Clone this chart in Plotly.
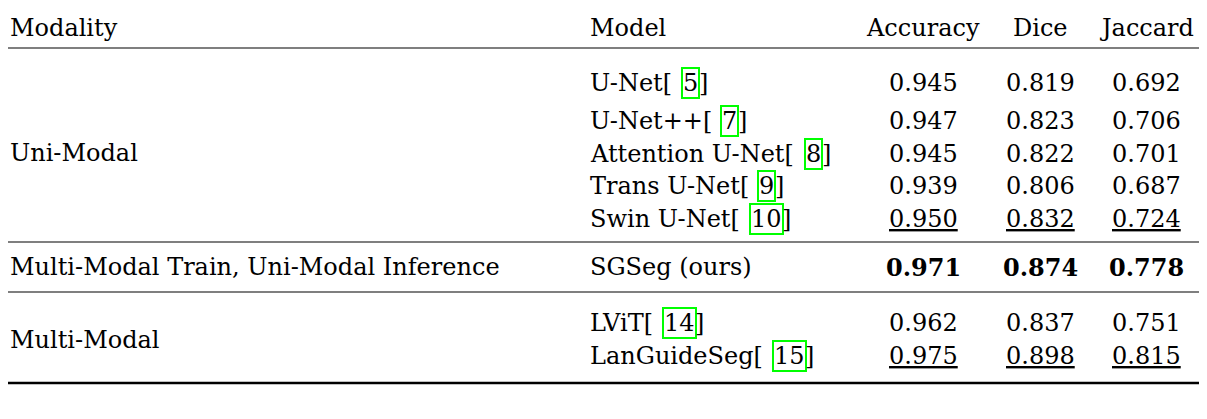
import plotly.graph_objects as go

headers = ["Modality", "Model", "Accuracy", "Dice", "Jaccard"]
modalities = ["Uni-Modal", "Multi-Modal Train, Uni-Modal Inference", "Multi-Modal"]
models = ["U-Net", "U-Net++", "Attention U-Net", "Trans U-Net", "Swin U-Net",
          "SGSeg (ours)", "LViT", "LanGuideSeg"]
citations = ["5", "7", "8", "9", "10", "", "14", "15"]
accuracy = [0.945, 0.947, 0.945, 0.939, 0.950, 0.971, 0.962, 0.975]
dice = [0.819, 0.823, 0.822, 0.806, 0.832, 0.874, 0.837, 0.898]
jaccard = [0.692, 0.706, 0.701, 0.687, 0.724, 0.778, 0.751, 0.815]
bold_rows = [5]
underline_rows = [4, 7]

# layout (page pixels); page body has an 8px margin, so the plot is shifted
W, H = 1207, 419
M = 8
row_y = [83, 121, 154, 186, 219, 267, 323, 356]
mod_y = [153, 267, 340]
cite_x = [681, 720, 804, 757, 749, None, 662, 772]
col_x = [923, 1040, 1146]
FONT = dict(family="DejaVu Serif", size=24, color="black")

fig = go.Figure()
fig.add_trace(go.Scatter(x=[M + 1], y=[M + 1], mode="markers",
                         marker=dict(opacity=0), showlegend=False))

def txt(x, y, s, anchor="left", **kw):
    fig.add_annotation(x=x, y=y, text=s, showarrow=False, xanchor=anchor,
                       yanchor="middle", font=FONT, **kw)

hx = [8, 588] + col_x
for i, h in enumerate(headers):
    txt(hx[i], 28, h, "left" if i < 2 else "center")
for m, y in zip(modalities, mod_y):
    txt(8, y, m)
for i, (m, c) in enumerate(zip(models, citations)):
    y = row_y[i]
    if c:
        txt(588, y, m + "[")
        fig.add_annotation(x=cite_x[i], y=y, text=c, showarrow=False, xanchor="left",
                           yanchor="middle", font=FONT, bordercolor="#00ff00",
                           borderwidth=2, borderpad=0)
        txt(cite_x[i] + (15 if len(c) == 1 else 30) + 1, y, "]")
    else:
        txt(588, y, m)
    for x, vals in zip(col_x, [accuracy, dice, jaccard]):
        s = f"{vals[i]:.3f}"
        if i in bold_rows:
            s = f"<b>{s}</b>"
        if i in underline_rows:
            s = f"<u>{s}</u>"
        txt(x, y, s, "center")

for y, w in [(3, 2.5), (48, 1.2), (242, 1.2), (292, 1.2), (383, 2.5)]:
    fig.add_shape(type="line", x0=M, x1=W, y0=y, y1=y, line=dict(color="black", width=w))

fig.update_xaxes(range=[M, W - M], visible=False)
fig.update_yaxes(range=[H - M, M], visible=False)
fig.update_layout(width=W - 2 * M, height=H - 2 * M, margin=dict(l=0, r=0, t=0, b=0),
                  plot_bgcolor="white", paper_bgcolor="white")
fig.write_html("out.html")
